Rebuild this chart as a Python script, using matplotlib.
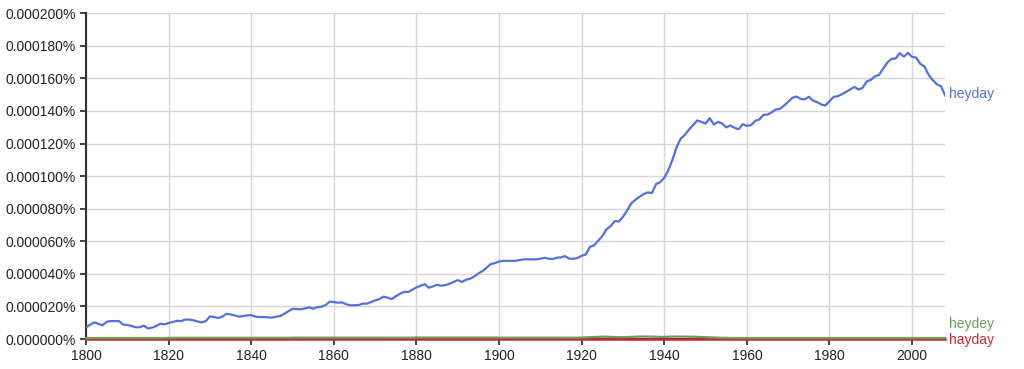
import matplotlib
matplotlib.use("Agg")
import matplotlib.pyplot as plt
import numpy as np

plt.rcParams['font.family'] = ['Liberation Sans', 'DejaVu Sans']

# годы 1800..2008, значения в единицах 0.000001%
years = np.arange(1800, 2009)

heyday = [
    7.2, 8.8, 10.2, 9.3, 8.4, 10.6, 11.0, 11.0, 11.0, 8.8,
    8.6, 8.0, 7.2, 7.2, 8.2, 6.5, 7.0, 8.0, 9.4, 9.0,
    9.8, 10.4, 11.2, 11.0, 11.9, 11.9, 11.5, 10.8, 10.2, 11.0,
    13.9, 13.5, 12.9, 13.7, 15.5, 15.1, 14.5, 13.7, 14.1, 14.5,
    14.7, 13.7, 13.5, 13.5, 13.3, 13.1, 13.7, 14.1, 15.5, 17.0,
    18.6, 18.4, 18.2, 18.8, 19.4, 18.6, 19.6, 19.8, 20.9, 22.9,
    22.7, 22.3, 22.5, 21.3, 20.7, 20.7, 20.9, 21.7, 21.7, 22.7,
    23.7, 24.5, 26.0, 25.4, 24.5, 26.2, 27.8, 29.0, 28.8, 30.3,
    31.7, 32.7, 33.7, 31.5, 32.3, 33.3, 32.7, 33.1, 33.9, 35.0,
    36.2, 35.0, 36.4, 37.0, 38.4, 40.3, 41.7, 43.8, 46.0, 46.6,
    47.6, 48.0, 48.0, 48.0, 48.0, 48.5, 48.9, 48.9, 48.9, 48.9,
    49.3, 49.9, 49.3, 49.1, 49.9, 50.1, 50.9, 49.3, 49.3, 49.7,
    51.1, 51.9, 56.6, 57.5, 60.3, 63.2, 67.3, 69.3, 72.4, 72.2,
    75.0, 78.9, 83.2, 85.5, 87.3, 89.0, 90.0, 89.6, 95.1, 96.3,
    99.0, 103.7, 110.2, 118.0, 123.1, 125.4, 128.6, 131.5, 134.2, 133.3,
    132.3, 135.6, 131.7, 133.3, 132.3, 129.9, 131.1, 129.7, 128.8, 131.9,
    130.9, 131.3, 133.9, 134.8, 137.6, 137.8, 139.1, 140.9, 141.3, 143.4,
    145.6, 148.1, 148.9, 147.4, 147.2, 148.7, 146.4, 145.4, 144.0, 143.4,
    146.0, 148.7, 149.1, 150.3, 151.7, 153.2, 154.8, 153.2, 154.2, 158.1,
    159.1, 161.3, 162.2, 166.1, 169.7, 172.0, 172.2, 175.5, 173.4, 175.7,
    173.2, 172.8, 168.9, 167.3, 162.2, 158.9, 156.4, 155.2, 149.5,
]

heydey = (
    [0.6] * 20 + [0.7] * 30 + [0.8] * 30 + [0.9] * 20 + [0.8] * 20
    + [0.9, 1.0, 1.1, 1.2, 1.3, 1.4, 1.4, 1.3, 1.2, 1.1]
    + [1.1, 1.2, 1.3, 1.4, 1.5, 1.5, 1.5, 1.5, 1.4, 1.3]
    + [1.3, 1.4, 1.5, 1.5, 1.5, 1.5, 1.4, 1.4, 1.3, 1.2]
    + [1.1, 1.0, 0.9, 0.8, 0.7, 0.7, 0.6, 0.6, 0.6, 0.6]
    + [0.6] * 49
)

hayday = [0.2] * 209

fig = plt.figure(figsize=(10.24, 3.69), dpi=100)
ax = fig.add_axes([0.084, 0.0813, 0.839, 0.8827])

ax.plot(years, hayday, color="#c8283a", lw=1.8, zorder=3, clip_on=False)
ax.plot(years, heydey, color="#6a9d55", lw=1.6, zorder=4, clip_on=False)
ax.plot(years, heyday, color="#5470e0", lw=1.6, zorder=5)

ax.set_xlim(1800, 2008)
ax.set_ylim(0, 200)

ax.set_xticks(np.arange(1800, 2001, 20))
yt = np.arange(0, 201, 20)
ax.set_yticks(yt)
ax.set_yticklabels([f"{v / 1e6:.6f}%" for v in yt])

ax.grid(True, color="#d6d6d6", lw=1)
ax.set_axisbelow(True)
for s in ["top", "right"]:
    ax.spines[s].set_visible(False)
ax.spines["left"].set_color("#333333")
ax.spines["left"].set_linewidth(1.5)
ax.spines["bottom"].set_color("#333333")
ax.spines["bottom"].set_linewidth(1.5)
ax.tick_params(colors="#222222", labelsize=10, length=4, width=1.2)
ax.tick_params(axis="x", pad=3)

# подписи справа от линий
ax.annotate("heyday", (2008, heyday[-1]), xytext=(3, 1), textcoords="offset points",
            color="#5470e0", fontsize=10, va="center", annotation_clip=False)
ax.annotate("heydey", (2008, heydey[-1]), xytext=(3, 10), textcoords="offset points",
            color="#6a9d55", fontsize=10, va="center", annotation_clip=False)
ax.annotate("hayday", (2008, hayday[-1]), xytext=(3, -1), textcoords="offset points",
            color="#c8283a", fontsize=10, va="center", annotation_clip=False)

fig.savefig("out.png", dpi=100)
